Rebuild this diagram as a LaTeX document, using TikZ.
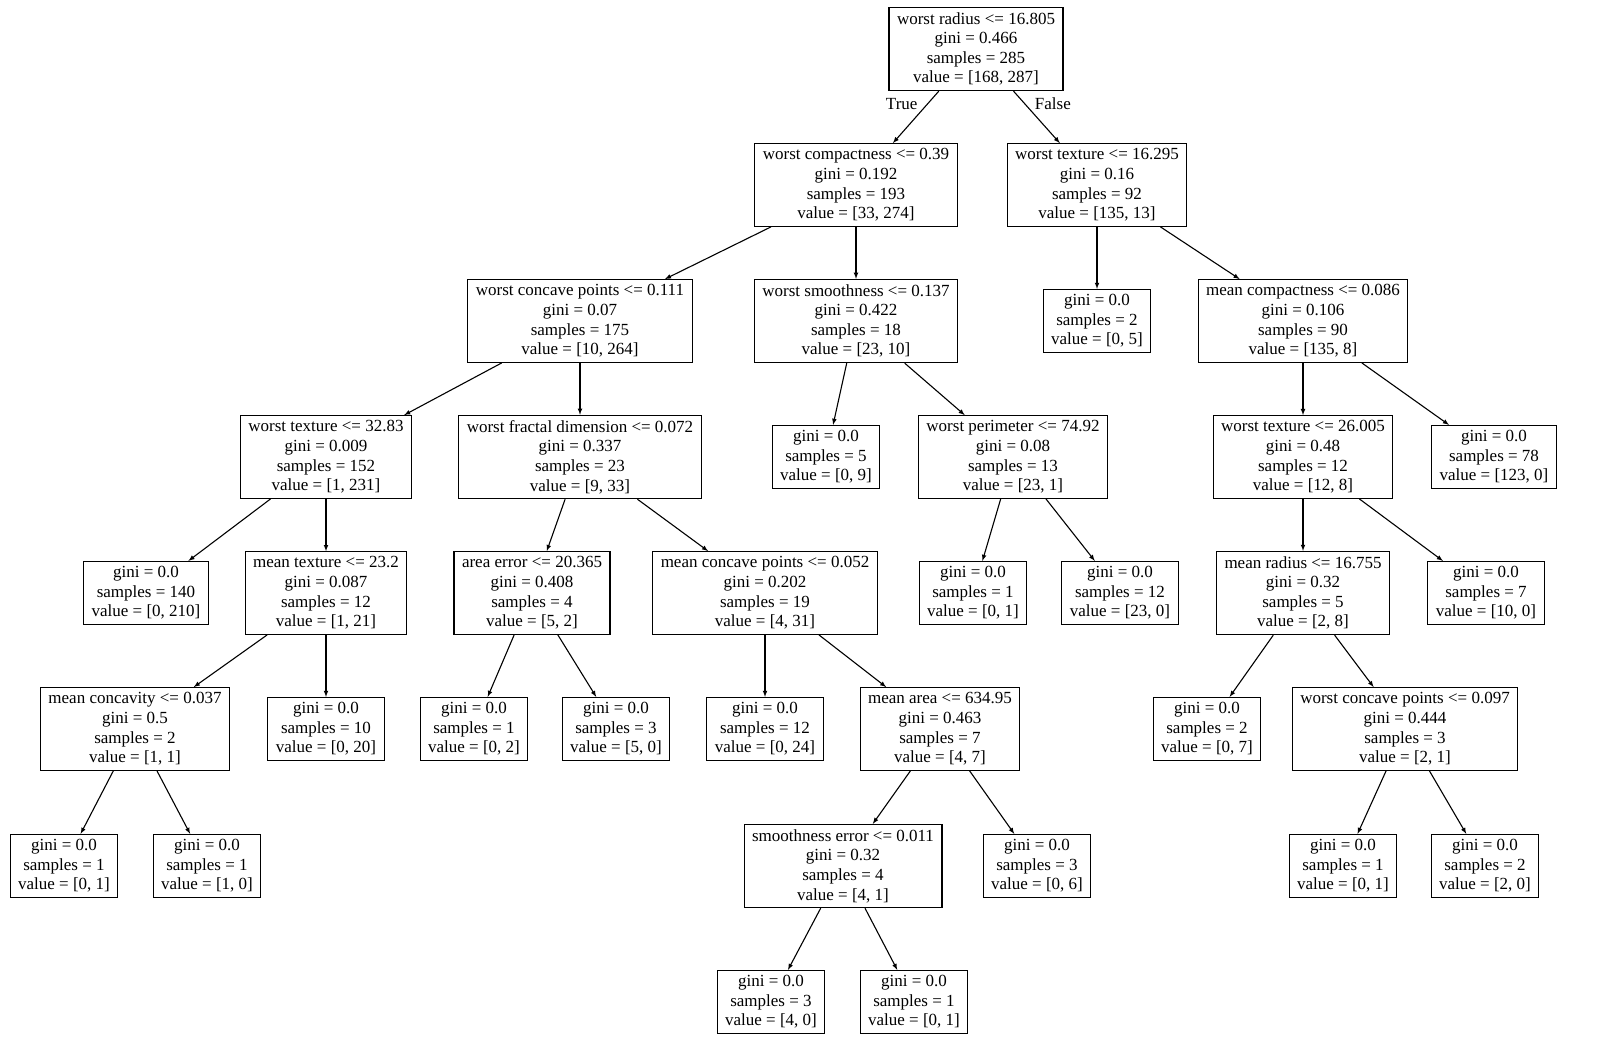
\documentclass[tikz,border=0pt]{standalone}
\usepackage{fontspec}
\setmainfont{Liberation Serif}
\usetikzlibrary{positioning, arrows}
\begin{document}
\begin{tikzpicture}[x=1pt, y=-1pt, line width=1.1pt,
    split/.style={rectangle, draw, align=center, font=\fontsize{17}{19.6}\selectfont, inner xsep=8pt, inner ysep=5pt, fill=white},
    leaf/.style={split},
    arr/.style={-{latex[scale=1.5]}},
    lbl/.style={font=\fontsize{17}{19}\selectfont}]
  \useasboundingbox (0,0) rectangle (1597,1052);
  \node[split] (n0) at (976,49) {worst radius <= 16.805\\gini = 0.466\\samples = 285\\value = [168, 287]};
  \node[split] (n1) at (856,185) {worst compactness <= 0.39\\gini = 0.192\\samples = 193\\value = [33, 274]};
  \node[split] (n2) at (1097,185) {worst texture <= 16.295\\gini = 0.16\\samples = 92\\value = [135, 13]};
  \node[split] (n3) at (580,321) {worst concave points <= 0.111\\gini = 0.07\\samples = 175\\value = [10, 264]};
  \node[split] (n4) at (856,321) {worst smoothness <= 0.137\\gini = 0.422\\samples = 18\\value = [23, 10]};
  \node[leaf] (n5) at (1097,321) {gini = 0.0\\samples = 2\\value = [0, 5]};
  \node[split] (n6) at (1303,321) {mean compactness <= 0.086\\gini = 0.106\\samples = 90\\value = [135, 8]};
  \node[split] (n7) at (326,457) {worst texture <= 32.83\\gini = 0.009\\samples = 152\\value = [1, 231]};
  \node[split] (n8) at (580,457) {worst fractal dimension <= 0.072\\gini = 0.337\\samples = 23\\value = [9, 33]};
  \node[leaf] (n9) at (826,457) {gini = 0.0\\samples = 5\\value = [0, 9]};
  \node[split] (n10) at (1013,457) {worst perimeter <= 74.92\\gini = 0.08\\samples = 13\\value = [23, 1]};
  \node[split] (n11) at (1303,457) {worst texture <= 26.005\\gini = 0.48\\samples = 12\\value = [12, 8]};
  \node[leaf] (n12) at (1494,457) {gini = 0.0\\samples = 78\\value = [123, 0]};
  \node[leaf] (n13) at (146,593) {gini = 0.0\\samples = 140\\value = [0, 210]};
  \node[split] (n14) at (326,593) {mean texture <= 23.2\\gini = 0.087\\samples = 12\\value = [1, 21]};
  \node[split] (n15) at (532,593) {area error <= 20.365\\gini = 0.408\\samples = 4\\value = [5, 2]};
  \node[split] (n16) at (765,593) {mean concave points <= 0.052\\gini = 0.202\\samples = 19\\value = [4, 31]};
  \node[leaf] (n17) at (973,593) {gini = 0.0\\samples = 1\\value = [0, 1]};
  \node[leaf] (n18) at (1120,593) {gini = 0.0\\samples = 12\\value = [23, 0]};
  \node[split] (n19) at (1303,593) {mean radius <= 16.755\\gini = 0.32\\samples = 5\\value = [2, 8]};
  \node[leaf] (n20) at (1486,593) {gini = 0.0\\samples = 7\\value = [10, 0]};
  \node[split] (n21) at (135,729) {mean concavity <= 0.037\\gini = 0.5\\samples = 2\\value = [1, 1]};
  \node[leaf] (n22) at (326,729) {gini = 0.0\\samples = 10\\value = [0, 20]};
  \node[leaf] (n23) at (474,729) {gini = 0.0\\samples = 1\\value = [0, 2]};
  \node[leaf] (n24) at (616,729) {gini = 0.0\\samples = 3\\value = [5, 0]};
  \node[leaf] (n25) at (765,729) {gini = 0.0\\samples = 12\\value = [0, 24]};
  \node[split] (n26) at (940,729) {mean area <= 634.95\\gini = 0.463\\samples = 7\\value = [4, 7]};
  \node[leaf] (n27) at (1207,729) {gini = 0.0\\samples = 2\\value = [0, 7]};
  \node[split] (n28) at (1405,729) {worst concave points <= 0.097\\gini = 0.444\\samples = 3\\value = [2, 1]};
  \node[leaf] (n29) at (64,866) {gini = 0.0\\samples = 1\\value = [0, 1]};
  \node[leaf] (n30) at (207,866) {gini = 0.0\\samples = 1\\value = [1, 0]};
  \node[split] (n31) at (843,866) {smoothness error <= 0.011\\gini = 0.32\\samples = 4\\value = [4, 1]};
  \node[leaf] (n32) at (1037,866) {gini = 0.0\\samples = 3\\value = [0, 6]};
  \node[leaf] (n33) at (1343,866) {gini = 0.0\\samples = 1\\value = [0, 1]};
  \node[leaf] (n34) at (1485,866) {gini = 0.0\\samples = 2\\value = [2, 0]};
  \node[leaf] (n35) at (771,1002) {gini = 0.0\\samples = 3\\value = [4, 0]};
  \node[leaf] (n36) at (914,1002) {gini = 0.0\\samples = 1\\value = [0, 1]};

  \draw (n0) edge[arr] node[pos=0.25, left=6pt, lbl] {True} (n1)
        edge[arr] node[pos=0.25, right=6pt, lbl] {False} (n2);
  \draw (n1) edge[arr] (n3) edge[arr] (n4);
  \draw (n2) edge[arr] (n5) edge[arr] (n6);
  \draw (n3) edge[arr] (n7) edge[arr] (n8);
  \draw (n4) edge[arr] (n9) edge[arr] (n10);
  \draw (n6) edge[arr] (n11) edge[arr] (n12);
  \draw (n7) edge[arr] (n13) edge[arr] (n14);
  \draw (n8) edge[arr] (n15) edge[arr] (n16);
  \draw (n10) edge[arr] (n17) edge[arr] (n18);
  \draw (n11) edge[arr] (n19) edge[arr] (n20);
  \draw (n14) edge[arr] (n21) edge[arr] (n22);
  \draw (n15) edge[arr] (n23) edge[arr] (n24);
  \draw (n16) edge[arr] (n25) edge[arr] (n26);
  \draw (n19) edge[arr] (n27) edge[arr] (n28);
  \draw (n21) edge[arr] (n29) edge[arr] (n30);
  \draw (n26) edge[arr] (n31) edge[arr] (n32);
  \draw (n28) edge[arr] (n33) edge[arr] (n34);
  \draw (n31) edge[arr] (n35) edge[arr] (n36);
\end{tikzpicture}
\end{document}
